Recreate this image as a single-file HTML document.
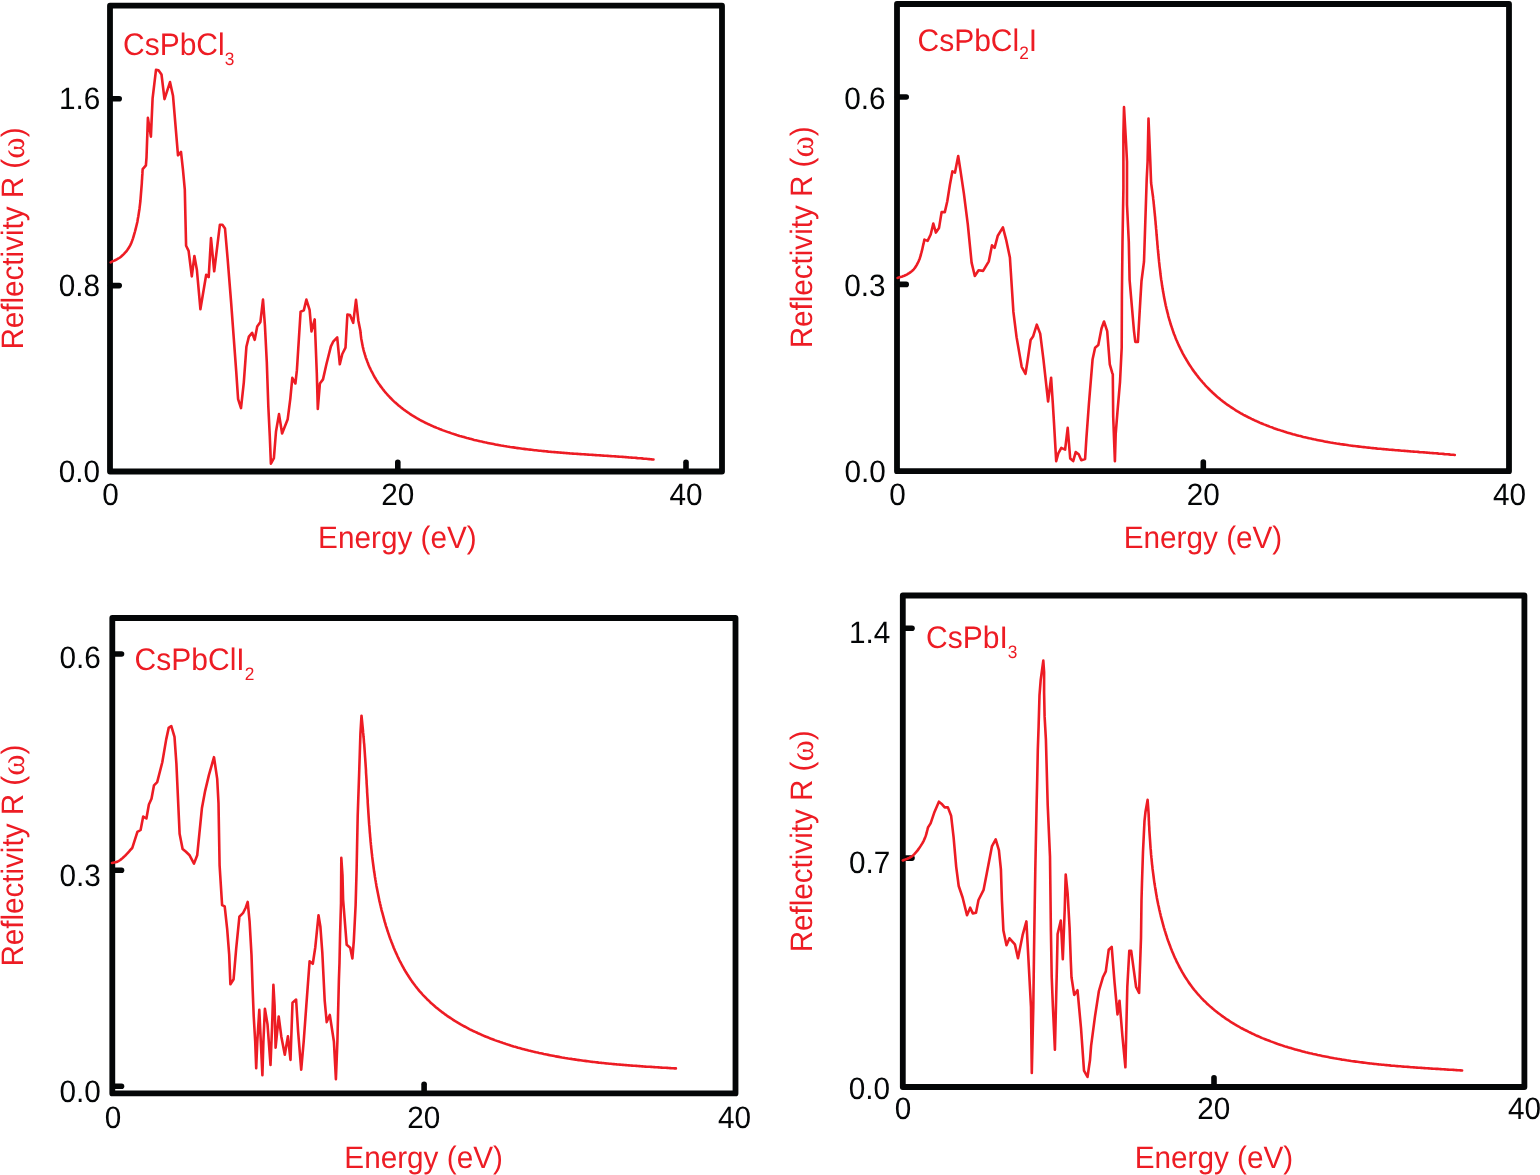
<!DOCTYPE html><html><head><meta charset="utf-8"><title>Reflectivity spectra</title>
<style>html,body{margin:0;padding:0;background:#fff;width:1540px;height:1175px;overflow:hidden}svg{display:block}text{font-family:"Liberation Sans",Arial,Helvetica,sans-serif;text-rendering:geometricPrecision}</style></head><body>
<svg width="1540" height="1175" viewBox="0 0 1540 1175">
<rect width="1540" height="1175" fill="#fff"/>
<line x1="110.6" y1="98.7" x2="119.2" y2="98.7" stroke="#040607" stroke-width="5.6" stroke-linecap="round"/>
<line x1="110.6" y1="285.6" x2="119.2" y2="285.6" stroke="#040607" stroke-width="5.6" stroke-linecap="round"/>
<line x1="397.8" y1="470.9" x2="397.8" y2="462.3" stroke="#040607" stroke-width="5.6" stroke-linecap="round"/>
<line x1="686.0" y1="470.9" x2="686.0" y2="462.3" stroke="#040607" stroke-width="5.6" stroke-linecap="round"/>
<rect x="110" y="5.7" width="612.0" height="465.8" fill="none" stroke="#040607" stroke-width="5.8" stroke-linejoin="round"/>
<polyline points="110.7,262.3 111.9,261.7 113.1,261.1 114.4,260.6 115.6,260.0 116.8,259.4 118.0,258.7 119.2,258.0 120.3,257.2 121.5,256.2 122.8,255.1 124.0,253.9 125.1,252.7 126.3,251.4 127.3,250.0 128.3,248.5 129.3,247.0 130.3,245.1 131.3,243.0 132.1,240.9 132.9,238.6 133.6,236.3 134.3,233.9 135.0,231.5 135.6,229.2 136.2,226.7 136.8,224.2 137.4,221.7 137.8,219.1 138.3,216.5 138.7,213.9 139.1,211.3 139.5,208.7 139.8,206.2 140.1,203.6 140.4,201.0 140.6,198.5 140.8,195.9 141.0,193.4 141.2,190.8 141.4,188.3 141.6,185.9 141.8,183.5 141.9,181.1 142.1,178.7 142.2,176.3 142.4,173.9 142.5,171.5 142.7,169.1 145.9,165.3 146.5,157.7 147.9,117.9 150.9,136.6 152.6,98.3 156.0,69.8 158.5,70.2 161.5,74.5 164.5,99.1 170.0,82.1 173.0,95.7 178.0,155.3 181.0,151.9 182.9,169.1 184.8,189.6 185.4,216.4 186.1,245.7 188.6,250.9 191.8,276.4 194.4,256.0 196.9,270.0 200.4,309.2 206.2,274.7 208.7,277.2 211.0,238.1 214.2,271.3 219.9,224.7 222.4,224.7 225.0,228.5 227.6,258.5 231.1,302.1 236.2,371.1 238.1,399.1 241.0,408.1 243.8,382.6 246.4,346.8 248.9,336.6 252.1,332.8 254.7,339.8 257.2,326.4 260.4,321.9 263.0,299.6 264.9,325.1 266.8,362.1 268.3,406.0 269.8,436.6 270.9,463.7 273.9,458.1 276.0,431.5 279.0,414.1 282.1,433.5 287.7,419.2 290.3,398.8 292.3,377.9 295.4,383.5 296.9,370.2 300.6,311.7 303.8,310.4 306.4,299.6 309.6,309.8 311.5,331.5 314.7,319.4 316.8,373.3 317.8,409.0 319.9,383.5 323.0,379.4 326.4,364.3 330.9,346.4 333.4,341.3 337.2,337.4 339.8,364.3 342.3,354.0 345.5,347.7 347.4,314.5 350.0,315.1 353.2,322.8 356.0,299.8 358.4,321.0 360.4,330.9 360.5,332.5 360.7,334.2 360.9,335.8 361.1,337.4 361.3,339.0 361.6,340.5 361.9,342.1 362.2,343.7 362.5,345.2 362.8,346.8 363.2,348.3 363.5,349.8 363.9,351.4 364.4,352.9 364.8,354.4 365.3,355.8 365.7,357.3 366.2,358.8 366.8,360.2 367.3,361.7 367.9,363.1 368.4,364.5 369.0,365.9 369.6,367.3 370.3,368.7 370.9,370.0 371.6,371.4 372.3,372.7 373.0,374.0 373.7,375.4 374.4,376.7 375.2,378.0 375.9,379.2 376.7,380.5 377.5,381.7 378.3,383.0 379.2,384.2 380.0,385.4 380.9,386.6 381.8,387.8 382.7,389.0 383.6,390.1 384.5,391.3 385.4,392.4 386.4,393.5 387.4,394.6 388.3,395.7 389.3,396.7 390.3,397.8 391.4,398.8 392.4,399.9 393.4,400.9 394.5,401.9 395.6,402.8 396.7,403.8 397.8,404.7 398.9,405.7 400.0,406.6 401.1,407.5 402.3,408.4 403.4,409.3 404.6,410.2 405.8,411.0 407.0,411.8 408.2,412.7 409.4,413.5 410.6,414.3 411.8,415.1 413.1,415.9 414.3,416.6 415.6,417.4 416.8,418.1 418.1,418.8 419.4,419.6 420.7,420.3 422.0,421.0 423.3,421.6 424.6,422.3 425.9,423.0 427.3,423.6 428.6,424.3 430.0,424.9 431.3,425.5 432.7,426.1 434.0,426.7 435.4,427.3 436.8,427.9 438.2,428.4 439.6,429.0 441.0,429.5 442.4,430.1 443.8,430.6 445.2,431.1 446.6,431.6 448.0,432.1 449.5,432.6 450.9,433.1 452.3,433.6 453.8,434.1 455.2,434.5 456.7,435.0 458.1,435.4 459.6,435.9 461.0,436.3 462.5,436.7 463.9,437.1 465.4,437.6 466.9,438.0 468.3,438.3 469.8,438.7 471.3,439.1 472.8,439.5 474.2,439.9 475.7,440.2 477.2,440.6 478.7,440.9 480.2,441.3 481.7,441.6 483.1,441.9 484.6,442.3 486.1,442.6 487.6,442.9 489.1,443.2 490.6,443.5 492.1,443.8 493.6,444.1 495.1,444.4 496.6,444.7 498.1,444.9 499.6,445.2 501.1,445.5 502.7,445.7 504.2,446.0 505.7,446.2 507.2,446.5 508.7,446.7 510.2,447.0 511.7,447.2 513.3,447.4 514.8,447.6 516.3,447.9 517.8,448.1 519.3,448.3 520.9,448.5 522.4,448.7 523.9,448.9 525.4,449.1 527.0,449.3 528.5,449.5 530.0,449.6 531.5,449.8 533.1,450.0 534.6,450.2 536.1,450.3 537.6,450.5 539.2,450.7 540.7,450.8 542.2,451.0 543.8,451.1 545.3,451.3 546.8,451.4 548.4,451.6 549.9,451.7 551.4,451.9 553.0,452.0 554.5,452.1 556.0,452.3 557.5,452.4 559.1,452.5 560.6,452.6 562.1,452.8 563.7,452.9 565.2,453.0 566.7,453.1 568.3,453.2 569.8,453.4 571.3,453.5 572.8,453.6 574.4,453.7 575.9,453.8 577.4,453.9 578.9,454.0 580.5,454.1 582.0,454.2 583.5,454.3 585.0,454.4 586.6,454.5 588.1,454.6 589.6,454.7 591.1,454.8 592.6,454.9 594.2,455.0 595.7,455.1 597.2,455.2 598.7,455.3 600.2,455.4 601.7,455.5 603.2,455.6 604.7,455.7 606.3,455.8 607.8,455.9 609.3,456.0 610.8,456.1 612.3,456.2 613.8,456.3 615.3,456.4 616.8,456.5 618.3,456.6 619.8,456.7 621.2,456.8 622.7,456.9 624.2,457.0 625.7,457.1 627.2,457.2 628.7,457.4 630.2,457.5 631.6,457.6 633.1,457.7 634.6,457.8 636.1,457.9 637.5,458.1 639.0,458.2 640.5,458.3 641.9,458.4 643.4,458.6 644.8,458.7 646.3,458.8 647.8,459.0 649.2,459.1 650.7,459.2 652.1,459.4 653.5,459.5" fill="none" stroke="#ED1C24" stroke-width="2.6" stroke-linejoin="round" stroke-linecap="round"/>
<line x1="897.6" y1="97.0" x2="906.2" y2="97.0" stroke="#040607" stroke-width="5.6" stroke-linecap="round"/>
<line x1="897.6" y1="284.4" x2="906.2" y2="284.4" stroke="#040607" stroke-width="5.6" stroke-linecap="round"/>
<line x1="1203.3" y1="470.6" x2="1203.3" y2="462.0" stroke="#040607" stroke-width="5.6" stroke-linecap="round"/>
<rect x="897" y="4.0" width="612.0" height="467.2" fill="none" stroke="#040607" stroke-width="5.8" stroke-linejoin="round"/>
<polyline points="897.6,277.9 898.6,277.6 899.5,277.3 900.5,277.0 901.4,276.7 902.4,276.4 903.3,276.1 904.3,275.7 905.2,275.3 906.2,274.8 907.2,274.3 908.2,273.7 909.2,273.1 910.2,272.4 911.1,271.7 912.1,271.0 912.9,270.2 913.8,269.3 914.6,268.3 915.3,267.2 916.1,266.0 916.8,264.9 917.4,263.7 918.0,262.5 918.6,261.3 919.1,260.1 919.6,258.9 920.0,257.6 920.4,256.3 920.8,255.0 921.1,253.7 921.5,252.4 921.8,251.1 922.2,249.7 922.5,248.3 922.8,246.8 923.1,245.4 923.5,243.9 923.8,242.5 924.1,241.0 924.4,239.6 927.6,240.9 930.7,234.5 933.3,223.6 935.9,232.6 939.0,228.1 941.6,212.1 944.8,212.1 947.3,201.3 949.9,184.7 952.4,171.3 955.0,172.6 958.2,156.0 960.1,168.1 963.9,193.6 967.8,224.3 971.6,262.6 974.8,276.0 978.6,270.2 983.1,270.9 988.8,261.3 992.0,245.3 994.6,247.9 997.8,235.7 1002.9,227.4 1006.1,239.6 1009.9,257.5 1013.4,311.9 1016.6,337.4 1021.7,366.8 1025.5,373.8 1027.4,361.7 1030.6,340.0 1033.2,336.2 1036.8,324.7 1040.2,333.6 1043.4,359.2 1048.1,401.5 1051.1,377.7 1052.8,403.2 1054.0,422.8 1056.2,461.1 1058.3,453.4 1061.3,447.9 1065.1,449.6 1067.7,427.9 1070.2,458.5 1073.2,461.1 1075.7,452.1 1078.7,454.3 1081.3,460.2 1085.1,458.9 1086.4,438.1 1088.9,404.0 1092.6,359.2 1095.1,347.7 1098.3,345.1 1101.5,328.5 1104.0,321.5 1107.2,331.1 1109.8,364.3 1112.3,373.2 1112.8,374.3 1113.2,416.8 1114.9,461.1 1115.7,433.8 1117.4,412.6 1120.0,382.1 1121.7,347.7 1121.9,295.3 1122.5,242.0 1123.4,188.4 1123.4,134.7 1124.0,107.0 1126.1,143.7 1127.0,161.6 1127.0,204.5 1128.8,242.0 1129.6,280.0 1134.0,331.1 1135.3,341.9 1137.9,341.9 1140.4,299.1 1141.5,281.0 1144.0,261.7 1146.7,179.4 1147.6,161.6 1148.5,118.6 1150.3,161.6 1151.1,183.0 1151.3,184.4 1151.5,185.8 1151.7,187.3 1151.9,188.7 1152.1,190.2 1152.3,191.6 1152.5,193.1 1152.7,194.5 1152.9,196.0 1153.1,197.4 1153.2,198.9 1153.4,200.4 1153.6,201.8 1153.7,203.3 1153.9,204.8 1154.0,206.3 1154.2,207.8 1154.3,209.3 1154.5,210.8 1154.6,212.3 1154.8,213.8 1154.9,215.3 1155.1,216.8 1155.2,218.3 1155.3,219.8 1155.5,221.3 1155.6,222.8 1155.7,224.3 1155.9,225.9 1156.0,227.4 1156.1,228.9 1156.3,230.4 1156.4,232.0 1156.5,233.5 1156.6,235.0 1156.8,236.6 1156.9,238.1 1157.0,239.6 1157.2,241.2 1157.3,242.7 1157.4,244.3 1157.6,245.8 1157.7,247.3 1157.8,248.9 1158.0,250.4 1158.1,252.0 1158.3,253.5 1158.4,255.0 1158.6,256.6 1158.7,258.1 1158.9,259.7 1159.0,261.2 1159.2,262.8 1159.4,264.3 1159.5,265.8 1159.7,267.4 1159.9,268.9 1160.1,270.5 1160.3,272.0 1160.4,273.5 1160.6,275.1 1160.8,276.6 1161.0,278.1 1161.2,279.7 1161.5,281.2 1161.7,282.7 1161.9,284.2 1162.1,285.8 1162.4,287.3 1162.6,288.8 1162.9,290.3 1163.1,291.8 1163.4,293.3 1163.7,294.8 1163.9,296.3 1164.2,297.8 1164.5,299.3 1164.8,300.8 1165.1,302.3 1165.4,303.8 1165.7,305.3 1166.1,306.8 1166.4,308.3 1166.8,309.7 1167.1,311.2 1167.5,312.7 1167.9,314.1 1168.2,315.6 1168.6,317.1 1169.0,318.5 1169.4,320.0 1169.9,321.4 1170.3,322.8 1170.7,324.3 1171.2,325.7 1171.7,327.1 1172.1,328.5 1172.6,329.9 1173.1,331.4 1173.6,332.8 1174.1,334.2 1174.7,335.5 1175.2,336.9 1175.7,338.3 1176.3,339.7 1176.9,341.0 1177.5,342.4 1178.1,343.8 1178.7,345.1 1179.3,346.4 1180.0,347.8 1180.6,349.1 1181.3,350.4 1181.9,351.7 1182.6,353.1 1183.3,354.4 1184.0,355.6 1184.7,356.9 1185.5,358.2 1186.2,359.5 1187.0,360.7 1187.7,362.0 1188.5,363.2 1189.3,364.5 1190.1,365.7 1190.9,366.9 1191.7,368.1 1192.5,369.4 1193.4,370.6 1194.2,371.7 1195.1,372.9 1196.0,374.1 1196.9,375.3 1197.8,376.4 1198.7,377.6 1199.6,378.7 1200.5,379.8 1201.5,380.9 1202.4,382.0 1203.4,383.1 1204.4,384.2 1205.3,385.3 1206.3,386.4 1207.3,387.4 1208.4,388.5 1209.4,389.5 1210.4,390.5 1211.5,391.5 1212.5,392.5 1213.6,393.5 1214.7,394.5 1215.8,395.5 1216.9,396.5 1218.0,397.4 1219.1,398.3 1220.2,399.3 1221.4,400.2 1222.5,401.1 1223.7,402.0 1224.9,402.9 1226.0,403.7 1227.2,404.6 1228.4,405.4 1229.7,406.3 1230.9,407.1 1232.1,407.9 1233.3,408.7 1234.6,409.5 1235.8,410.3 1237.1,411.1 1238.4,411.8 1239.7,412.6 1240.9,413.3 1242.2,414.0 1243.5,414.8 1244.9,415.5 1246.2,416.2 1247.5,416.8 1248.8,417.5 1250.2,418.2 1251.5,418.9 1252.9,419.5 1254.2,420.1 1255.6,420.8 1257.0,421.4 1258.4,422.0 1259.7,422.6 1261.1,423.2 1262.5,423.8 1263.9,424.4 1265.3,424.9 1266.8,425.5 1268.2,426.0 1269.6,426.6 1271.0,427.1 1272.5,427.6 1273.9,428.2 1275.3,428.7 1276.8,429.2 1278.2,429.7 1279.7,430.1 1281.1,430.6 1282.6,431.1 1284.1,431.6 1285.5,432.0 1287.0,432.5 1288.5,432.9 1289.9,433.3 1291.4,433.7 1292.9,434.2 1294.4,434.6 1295.9,435.0 1297.4,435.4 1298.9,435.8 1300.4,436.1 1301.8,436.5 1303.3,436.9 1304.8,437.2 1306.3,437.6 1307.8,437.9 1309.3,438.3 1310.8,438.6 1312.3,438.9 1313.9,439.3 1315.4,439.6 1316.9,439.9 1318.4,440.2 1319.9,440.5 1321.4,440.8 1322.9,441.1 1324.4,441.4 1325.9,441.7 1327.4,441.9 1328.9,442.2 1330.4,442.5 1332.0,442.7 1333.5,443.0 1335.0,443.2 1336.5,443.5 1338.0,443.7 1339.5,443.9 1341.0,444.2 1342.6,444.4 1344.1,444.6 1345.6,444.8 1347.1,445.0 1348.6,445.3 1350.1,445.5 1351.7,445.7 1353.2,445.9 1354.7,446.0 1356.2,446.2 1357.7,446.4 1359.2,446.6 1360.8,446.8 1362.3,447.0 1363.8,447.1 1365.3,447.3 1366.8,447.5 1368.3,447.6 1369.9,447.8 1371.4,448.0 1372.9,448.1 1374.4,448.3 1375.9,448.4 1377.4,448.6 1379.0,448.7 1380.5,448.8 1382.0,449.0 1383.5,449.1 1385.0,449.3 1386.5,449.4 1388.0,449.5 1389.5,449.7 1391.0,449.8 1392.5,449.9 1394.1,450.0 1395.6,450.2 1397.1,450.3 1398.6,450.4 1400.1,450.5 1401.6,450.7 1403.1,450.8 1404.6,450.9 1406.1,451.0 1407.6,451.1 1409.1,451.2 1410.6,451.4 1412.1,451.5 1413.6,451.6 1415.1,451.7 1416.5,451.8 1418.0,451.9 1419.5,452.1 1421.0,452.2 1422.5,452.3 1424.0,452.4 1425.5,452.5 1426.9,452.6 1428.4,452.7 1429.9,452.9 1431.4,453.0 1432.9,453.1 1434.3,453.2 1435.8,453.3 1437.3,453.4 1438.7,453.6 1440.2,453.7 1441.7,453.8 1443.1,453.9 1444.6,454.1 1446.1,454.2 1447.5,454.3 1449.0,454.4 1450.4,454.6 1451.9,454.7 1453.3,454.8 1454.8,455.0" fill="none" stroke="#ED1C24" stroke-width="2.6" stroke-linejoin="round" stroke-linecap="round"/>
<line x1="112.9" y1="654.0" x2="121.5" y2="654.0" stroke="#040607" stroke-width="5.6" stroke-linecap="round"/>
<line x1="112.9" y1="870.2" x2="121.5" y2="870.2" stroke="#040607" stroke-width="5.6" stroke-linecap="round"/>
<line x1="112.9" y1="1086.3" x2="121.5" y2="1086.3" stroke="#040607" stroke-width="5.6" stroke-linecap="round"/>
<line x1="424.1" y1="1092.8" x2="424.1" y2="1084.2" stroke="#040607" stroke-width="5.6" stroke-linecap="round"/>
<rect x="112.3" y="618.0" width="623.2" height="475.4" fill="none" stroke="#040607" stroke-width="5.8" stroke-linejoin="round"/>
<polyline points="112.0,863.0 112.7,862.8 113.5,862.7 114.2,862.5 115.0,862.3 115.7,862.2 116.5,862.0 117.2,861.7 117.9,861.4 118.7,861.0 119.5,860.5 120.2,860.0 121.0,859.4 121.7,858.8 122.5,858.2 123.2,857.5 124.0,856.8 125.0,855.9 126.0,854.8 127.1,853.7 128.1,852.6 129.2,851.4 130.2,850.2 131.3,849.0 132.3,847.9 137.4,831.9 140.6,830.0 143.2,816.6 146.4,818.5 148.9,804.5 151.5,798.7 154.0,785.3 157.2,782.1 162.3,762.3 166.2,739.4 168.7,727.9 171.3,726.0 174.5,736.8 176.4,763.6 179.6,833.8 182.6,848.9 185.7,851.5 189.6,855.3 194.0,863.6 197.2,855.3 201.9,808.3 205.1,791.1 208.9,775.1 214.0,757.2 217.2,778.9 218.5,803.2 219.6,865.5 222.1,905.1 224.7,906.4 227.2,929.4 229.2,954.9 230.4,984.3 233.6,979.2 236.2,948.5 239.4,916.6 243.2,912.8 245.7,907.7 247.7,901.9 249.6,921.7 251.5,954.9 252.7,990.4 253.7,1016.0 255.2,1041.5 256.2,1068.1 257.3,1041.5 259.3,1009.8 260.8,1041.5 262.4,1075.2 263.4,1041.5 264.9,1008.8 267.5,1024.1 270.5,1065.0 272.1,1026.2 273.4,984.8 274.6,1005.8 275.6,1047.6 278.7,1016.5 281.3,1036.4 284.8,1054.8 287.9,1036.4 290.5,1059.9 292.5,1002.7 296.1,999.6 298.1,1031.3 301.2,1069.6 303.7,1041.5 306.3,1005.8 309.6,961.3 312.8,963.8 315.3,947.2 318.5,915.3 320.4,926.8 322.3,952.3 324.7,1000.6 326.7,1022.1 329.8,1014.9 333.9,1041.5 335.9,1079.3 337.4,1041.5 338.9,979.9 339.5,962.6 340.1,934.0 341.0,903.1 341.3,857.9 342.5,875.7 343.1,899.5 346.7,944.8 350.2,947.7 352.4,958.5 353.8,941.2 355.6,905.5 356.6,870.0 357.7,815.7 359.1,774.9 360.4,734.0 361.5,715.7 363.0,731.0 363.1,732.4 363.3,733.9 363.4,735.3 363.5,736.8 363.7,738.2 363.8,739.7 363.9,741.1 364.0,742.6 364.2,744.1 364.3,745.5 364.4,747.0 364.5,748.4 364.6,749.9 364.7,751.4 364.8,752.8 364.9,754.3 365.0,755.8 365.1,757.3 365.2,758.7 365.3,760.2 365.4,761.7 365.5,763.2 365.6,764.7 365.7,766.1 365.8,767.6 365.9,769.1 366.0,770.6 366.0,772.1 366.1,773.6 366.2,775.1 366.3,776.6 366.4,778.1 366.5,779.6 366.6,781.1 366.6,782.6 366.7,784.1 366.8,785.6 366.9,787.1 367.0,788.6 367.1,790.1 367.1,791.6 367.2,793.1 367.3,794.6 367.4,796.1 367.5,797.6 367.6,799.1 367.7,800.7 367.7,802.2 367.8,803.7 367.9,805.2 368.0,806.7 368.1,808.2 368.2,809.7 368.3,811.3 368.4,812.8 368.5,814.3 368.6,815.8 368.7,817.3 368.8,818.8 368.9,820.4 369.0,821.9 369.1,823.4 369.2,824.9 369.4,826.5 369.5,828.0 369.6,829.5 369.7,831.0 369.8,832.5 370.0,834.1 370.1,835.6 370.2,837.1 370.4,838.6 370.5,840.2 370.6,841.7 370.8,843.2 370.9,844.7 371.1,846.2 371.2,847.8 371.4,849.3 371.6,850.8 371.7,852.3 371.9,853.9 372.1,855.4 372.2,856.9 372.4,858.4 372.6,859.9 372.8,861.5 373.0,863.0 373.2,864.5 373.4,866.0 373.6,867.5 373.8,869.1 374.0,870.6 374.2,872.1 374.5,873.6 374.7,875.1 374.9,876.7 375.2,878.2 375.4,879.7 375.7,881.2 375.9,882.7 376.2,884.2 376.4,885.7 376.7,887.2 377.0,888.7 377.3,890.3 377.6,891.8 377.9,893.3 378.2,894.8 378.5,896.3 378.8,897.8 379.1,899.3 379.4,900.8 379.8,902.3 380.1,903.8 380.5,905.3 380.8,906.8 381.2,908.3 381.5,909.8 381.9,911.3 382.3,912.7 382.7,914.2 383.1,915.7 383.5,917.2 383.9,918.7 384.3,920.2 384.7,921.7 385.2,923.1 385.6,924.6 386.0,926.1 386.5,927.5 387.0,929.0 387.4,930.5 387.9,931.9 388.4,933.4 388.9,934.8 389.4,936.3 389.9,937.7 390.4,939.2 391.0,940.6 391.5,942.0 392.1,943.4 392.6,944.8 393.2,946.3 393.7,947.7 394.3,949.1 394.9,950.5 395.5,951.8 396.1,953.2 396.8,954.6 397.4,956.0 398.0,957.3 398.7,958.7 399.3,960.0 400.0,961.4 400.7,962.7 401.4,964.0 402.1,965.3 402.8,966.6 403.5,967.9 404.2,969.2 405.0,970.5 405.7,971.8 406.5,973.0 407.3,974.3 408.1,975.5 408.9,976.8 409.7,978.0 410.5,979.2 411.3,980.4 412.1,981.6 413.0,982.8 413.9,984.0 414.7,985.1 415.6,986.3 416.5,987.4 417.4,988.5 418.3,989.6 419.3,990.8 420.2,991.8 421.2,992.9 422.1,994.0 423.1,995.1 424.1,996.1 425.1,997.1 426.1,998.2 427.1,999.2 428.2,1000.2 429.2,1001.2 430.2,1002.2 431.3,1003.2 432.4,1004.1 433.4,1005.1 434.5,1006.0 435.6,1007.0 436.7,1007.9 437.9,1008.8 439.0,1009.7 440.1,1010.6 441.3,1011.5 442.4,1012.4 443.6,1013.2 444.7,1014.1 445.9,1014.9 447.1,1015.8 448.3,1016.6 449.5,1017.4 450.7,1018.2 452.0,1019.0 453.2,1019.8 454.4,1020.6 455.7,1021.4 456.9,1022.1 458.2,1022.9 459.4,1023.6 460.7,1024.4 462.0,1025.1 463.3,1025.8 464.6,1026.5 465.9,1027.2 467.2,1027.9 468.5,1028.6 469.8,1029.3 471.2,1030.0 472.5,1030.6 473.8,1031.3 475.2,1031.9 476.6,1032.5 477.9,1033.2 479.3,1033.8 480.7,1034.4 482.0,1035.0 483.4,1035.6 484.8,1036.2 486.2,1036.8 487.6,1037.3 489.0,1037.9 490.4,1038.5 491.8,1039.0 493.3,1039.5 494.7,1040.1 496.1,1040.6 497.5,1041.1 499.0,1041.6 500.4,1042.1 501.9,1042.6 503.3,1043.1 504.8,1043.6 506.2,1044.1 507.7,1044.6 509.2,1045.0 510.6,1045.5 512.1,1045.9 513.6,1046.4 515.1,1046.8 516.6,1047.2 518.0,1047.7 519.5,1048.1 521.0,1048.5 522.5,1048.9 524.0,1049.3 525.5,1049.7 527.0,1050.1 528.5,1050.5 530.0,1050.8 531.6,1051.2 533.1,1051.6 534.6,1051.9 536.1,1052.3 537.6,1052.6 539.1,1053.0 540.7,1053.3 542.2,1053.6 543.7,1054.0 545.2,1054.3 546.7,1054.6 548.3,1054.9 549.8,1055.2 551.3,1055.5 552.9,1055.8 554.4,1056.1 555.9,1056.4 557.4,1056.6 559.0,1056.9 560.5,1057.2 562.0,1057.5 563.6,1057.7 565.1,1058.0 566.6,1058.2 568.2,1058.5 569.7,1058.7 571.2,1058.9 572.8,1059.2 574.3,1059.4 575.8,1059.6 577.3,1059.9 578.9,1060.1 580.4,1060.3 581.9,1060.5 583.5,1060.7 585.0,1060.9 586.5,1061.1 588.0,1061.3 589.6,1061.5 591.1,1061.7 592.6,1061.9 594.1,1062.0 595.7,1062.2 597.2,1062.4 598.7,1062.6 600.2,1062.7 601.7,1062.9 603.3,1063.0 604.8,1063.2 606.3,1063.4 607.8,1063.5 609.3,1063.7 610.8,1063.8 612.4,1064.0 613.9,1064.1 615.4,1064.2 616.9,1064.4 618.4,1064.5 619.9,1064.6 621.4,1064.8 622.9,1064.9 624.4,1065.0 625.9,1065.1 627.4,1065.3 628.9,1065.4 630.4,1065.5 631.9,1065.6 633.4,1065.7 634.9,1065.8 636.4,1065.9 637.9,1066.0 639.4,1066.1 640.9,1066.3 642.3,1066.4 643.8,1066.5 645.3,1066.6 646.8,1066.7 648.3,1066.8 649.7,1066.8 651.2,1066.9 652.7,1067.0 654.2,1067.1 655.6,1067.2 657.1,1067.3 658.6,1067.4 660.0,1067.5 661.5,1067.6 662.9,1067.7 664.4,1067.8 665.8,1067.8 667.3,1067.9 668.7,1068.0 670.2,1068.1 671.6,1068.2 673.1,1068.3 674.5,1068.4 675.9,1068.4" fill="none" stroke="#ED1C24" stroke-width="2.6" stroke-linejoin="round" stroke-linecap="round"/>
<line x1="903.4" y1="628.3" x2="912.0" y2="628.3" stroke="#040607" stroke-width="5.6" stroke-linecap="round"/>
<line x1="903.4" y1="858.1" x2="912.0" y2="858.1" stroke="#040607" stroke-width="5.6" stroke-linecap="round"/>
<line x1="1214.0" y1="1086.4" x2="1214.0" y2="1077.8" stroke="#040607" stroke-width="5.6" stroke-linecap="round"/>
<rect x="902.8" y="595.5" width="621.6" height="491.5" fill="none" stroke="#040607" stroke-width="5.8" stroke-linejoin="round"/>
<polyline points="902.8,860.5 903.9,860.0 905.0,859.6 906.1,859.2 907.3,858.8 908.4,858.3 909.4,857.8 910.5,857.3 911.5,856.6 912.6,855.8 913.6,854.9 914.6,853.9 915.5,852.8 916.5,851.7 917.4,850.6 918.3,849.4 919.1,848.3 919.9,847.1 920.7,845.9 921.5,844.6 922.3,843.4 923.0,842.1 923.7,840.8 924.3,839.4 924.9,838.1 925.4,836.8 925.9,835.4 926.3,834.1 926.7,832.7 927.0,831.3 927.4,829.9 927.7,828.6 928.1,827.2 930.6,823.4 934.5,811.9 938.9,801.7 942.1,804.3 944.7,807.4 947.9,807.4 951.1,815.7 953.6,837.4 956.2,866.8 958.7,886.0 962.6,897.5 967.0,915.3 970.2,907.7 972.8,913.4 976.0,912.8 978.5,900.0 983.6,889.8 986.8,873.2 991.9,846.4 995.7,839.4 998.9,850.2 1000.9,869.4 1001.9,900.0 1003.4,930.6 1006.5,945.2 1009.5,938.3 1014.9,944.4 1018.0,958.2 1022.6,935.2 1026.4,921.4 1028.7,964.3 1031.0,1007.2 1031.8,1073.0 1033.3,1007.2 1034.0,953.6 1034.8,900.0 1035.3,869.4 1036.6,805.5 1037.2,780.0 1037.8,750.0 1038.6,726.6 1039.5,695.1 1040.7,679.8 1043.3,660.6 1044.1,672.1 1044.1,692.6 1044.6,716.4 1045.9,739.4 1047.7,805.0 1050.0,856.6 1050.9,930.6 1051.7,976.6 1052.9,1006.6 1054.9,1049.7 1056.9,967.5 1057.6,934.0 1060.8,920.6 1062.8,959.3 1064.7,910.0 1065.7,874.5 1067.6,893.1 1069.6,928.3 1070.8,961.3 1071.5,977.3 1074.2,994.9 1077.5,990.2 1081.0,1028.0 1084.0,1070.6 1087.5,1077.0 1090.0,1060.0 1091.1,1045.8 1095.0,1016.4 1098.9,991.0 1102.9,977.3 1105.8,971.4 1108.7,949.8 1111.7,946.9 1114.6,983.1 1117.5,1014.4 1119.5,1000.7 1122.4,1036.0 1125.4,1067.3 1127.3,987.0 1129.3,950.8 1131.2,950.8 1136.1,987.0 1139.1,992.9 1141.0,938.1 1141.5,900.0 1142.0,882.1 1143.0,851.5 1144.5,820.9 1145.5,811.7 1147.6,799.9 1148.6,813.7 1148.7,815.1 1148.7,816.5 1148.8,817.9 1148.8,819.4 1148.9,820.8 1149.0,822.2 1149.0,823.7 1149.1,825.1 1149.2,826.5 1149.3,828.0 1149.3,829.5 1149.4,830.9 1149.5,832.4 1149.6,833.8 1149.7,835.3 1149.8,836.8 1149.9,838.3 1150.0,839.7 1150.1,841.2 1150.2,842.7 1150.3,844.2 1150.4,845.7 1150.5,847.2 1150.6,848.7 1150.8,850.2 1150.9,851.7 1151.0,853.2 1151.1,854.7 1151.3,856.2 1151.4,857.7 1151.6,859.2 1151.7,860.8 1151.9,862.3 1152.0,863.8 1152.2,865.3 1152.4,866.8 1152.5,868.4 1152.7,869.9 1152.9,871.4 1153.1,872.9 1153.3,874.5 1153.5,876.0 1153.7,877.5 1153.9,879.1 1154.1,880.6 1154.3,882.1 1154.5,883.6 1154.8,885.2 1155.0,886.7 1155.3,888.2 1155.5,889.8 1155.8,891.3 1156.0,892.8 1156.3,894.4 1156.6,895.9 1156.8,897.4 1157.1,898.9 1157.4,900.5 1157.7,902.0 1158.0,903.5 1158.3,905.0 1158.7,906.5 1159.0,908.1 1159.3,909.6 1159.7,911.1 1160.0,912.6 1160.4,914.1 1160.7,915.6 1161.1,917.1 1161.5,918.6 1161.9,920.1 1162.3,921.6 1162.7,923.1 1163.1,924.6 1163.5,926.1 1163.9,927.6 1164.4,929.1 1164.8,930.6 1165.3,932.0 1165.7,933.5 1166.2,935.0 1166.7,936.4 1167.1,937.9 1167.6,939.4 1168.1,940.8 1168.7,942.3 1169.2,943.7 1169.7,945.1 1170.3,946.6 1170.8,948.0 1171.4,949.4 1171.9,950.8 1172.5,952.2 1173.1,953.6 1173.7,955.0 1174.3,956.4 1174.9,957.8 1175.6,959.1 1176.2,960.5 1176.8,961.9 1177.5,963.2 1178.2,964.5 1178.9,965.9 1179.5,967.2 1180.3,968.5 1181.0,969.8 1181.7,971.1 1182.4,972.4 1183.2,973.7 1183.9,975.0 1184.7,976.2 1185.5,977.5 1186.3,978.7 1187.1,979.9 1187.9,981.1 1188.7,982.4 1189.6,983.6 1190.4,984.7 1191.3,985.9 1192.1,987.1 1193.0,988.2 1193.9,989.4 1194.8,990.5 1195.8,991.6 1196.7,992.7 1197.6,993.8 1198.6,994.9 1199.6,996.0 1200.5,997.0 1201.5,998.1 1202.5,999.1 1203.5,1000.2 1204.6,1001.2 1205.6,1002.2 1206.6,1003.2 1207.7,1004.2 1208.7,1005.1 1209.8,1006.1 1210.9,1007.1 1212.0,1008.0 1213.1,1008.9 1214.2,1009.9 1215.3,1010.8 1216.5,1011.7 1217.6,1012.6 1218.8,1013.5 1219.9,1014.3 1221.1,1015.2 1222.3,1016.1 1223.4,1016.9 1224.6,1017.7 1225.8,1018.6 1227.0,1019.4 1228.3,1020.2 1229.5,1021.0 1230.7,1021.8 1232.0,1022.6 1233.2,1023.3 1234.5,1024.1 1235.7,1024.8 1237.0,1025.6 1238.3,1026.3 1239.5,1027.0 1240.8,1027.8 1242.1,1028.5 1243.4,1029.2 1244.7,1029.8 1246.1,1030.5 1247.4,1031.2 1248.7,1031.9 1250.1,1032.5 1251.4,1033.2 1252.7,1033.8 1254.1,1034.4 1255.4,1035.1 1256.8,1035.7 1258.2,1036.3 1259.6,1036.9 1260.9,1037.5 1262.3,1038.1 1263.7,1038.6 1265.1,1039.2 1266.5,1039.8 1267.9,1040.3 1269.3,1040.8 1270.7,1041.4 1272.1,1041.9 1273.5,1042.4 1275.0,1042.9 1276.4,1043.5 1277.8,1044.0 1279.2,1044.4 1280.7,1044.9 1282.1,1045.4 1283.6,1045.9 1285.0,1046.4 1286.5,1046.8 1287.9,1047.3 1289.4,1047.7 1290.8,1048.1 1292.3,1048.6 1293.8,1049.0 1295.2,1049.4 1296.7,1049.8 1298.2,1050.2 1299.7,1050.6 1301.1,1051.0 1302.6,1051.4 1304.1,1051.8 1305.6,1052.2 1307.1,1052.5 1308.6,1052.9 1310.1,1053.3 1311.6,1053.6 1313.1,1054.0 1314.6,1054.3 1316.1,1054.6 1317.6,1055.0 1319.1,1055.3 1320.6,1055.6 1322.1,1055.9 1323.7,1056.2 1325.2,1056.5 1326.7,1056.8 1328.2,1057.1 1329.7,1057.4 1331.3,1057.7 1332.8,1058.0 1334.3,1058.3 1335.8,1058.5 1337.4,1058.8 1338.9,1059.0 1340.4,1059.3 1342.0,1059.6 1343.5,1059.8 1345.0,1060.0 1346.6,1060.3 1348.1,1060.5 1349.6,1060.7 1351.2,1061.0 1352.7,1061.2 1354.2,1061.4 1355.8,1061.6 1357.3,1061.8 1358.8,1062.0 1360.4,1062.2 1361.9,1062.4 1363.5,1062.6 1365.0,1062.8 1366.5,1063.0 1368.1,1063.2 1369.6,1063.4 1371.2,1063.5 1372.7,1063.7 1374.2,1063.9 1375.8,1064.0 1377.3,1064.2 1378.8,1064.4 1380.4,1064.5 1381.9,1064.7 1383.5,1064.8 1385.0,1065.0 1386.5,1065.1 1388.0,1065.3 1389.6,1065.4 1391.1,1065.6 1392.6,1065.7 1394.2,1065.8 1395.7,1066.0 1397.2,1066.1 1398.7,1066.2 1400.3,1066.3 1401.8,1066.5 1403.3,1066.6 1404.8,1066.7 1406.3,1066.8 1407.9,1066.9 1409.4,1067.0 1410.9,1067.2 1412.4,1067.3 1413.9,1067.4 1415.4,1067.5 1416.9,1067.6 1418.4,1067.7 1419.9,1067.8 1421.4,1067.9 1422.9,1068.0 1424.4,1068.1 1425.9,1068.2 1427.3,1068.3 1428.8,1068.4 1430.3,1068.5 1431.8,1068.6 1433.3,1068.7 1434.7,1068.8 1436.2,1068.9 1437.7,1068.9 1439.1,1069.0 1440.6,1069.1 1442.0,1069.2 1443.5,1069.3 1444.9,1069.4 1446.4,1069.5 1447.8,1069.6 1449.3,1069.7 1450.7,1069.8 1452.1,1069.8 1453.6,1069.9 1455.0,1070.0 1456.4,1070.1 1457.8,1070.2 1459.2,1070.3 1460.6,1070.4 1462.1,1070.5" fill="none" stroke="#ED1C24" stroke-width="2.6" stroke-linejoin="round" stroke-linecap="round"/>
<text transform="translate(100.2 109.3) scale(0.96 1)" text-anchor="end" fill="#040607" font-size="30.96">1.6</text>
<text transform="translate(100.0 295.6) scale(0.96 1)" text-anchor="end" fill="#040607" font-size="30.96">0.8</text>
<text transform="translate(100.0 482.2) scale(0.96 1)" text-anchor="end" fill="#040607" font-size="30.96">0.0</text>
<text transform="translate(110.5 505.2) scale(0.96 1)" text-anchor="middle" fill="#040607" font-size="30.96">0</text>
<text transform="translate(397.8 505.2) scale(0.96 1)" text-anchor="middle" fill="#040607" font-size="30.96">20</text>
<text transform="translate(686.0 505.2) scale(0.96 1)" text-anchor="middle" fill="#040607" font-size="30.96">40</text>
<text transform="translate(885.6 108.9) scale(0.96 1)" text-anchor="end" fill="#040607" font-size="30.96">0.6</text>
<text transform="translate(885.6 295.8) scale(0.96 1)" text-anchor="end" fill="#040607" font-size="30.96">0.3</text>
<text transform="translate(885.8 482.0) scale(0.96 1)" text-anchor="end" fill="#040607" font-size="30.96">0.0</text>
<text transform="translate(897.5 505.3) scale(0.96 1)" text-anchor="middle" fill="#040607" font-size="30.96">0</text>
<text transform="translate(1203.2 504.7) scale(0.96 1)" text-anchor="middle" fill="#040607" font-size="30.96">20</text>
<text transform="translate(1509.5 505.1) scale(0.96 1)" text-anchor="middle" fill="#040607" font-size="30.96">40</text>
<text transform="translate(100.7 667.7) scale(0.96 1)" text-anchor="end" fill="#040607" font-size="30.96">0.6</text>
<text transform="translate(100.7 885.5) scale(0.96 1)" text-anchor="end" fill="#040607" font-size="30.96">0.3</text>
<text transform="translate(100.7 1102.2) scale(0.96 1)" text-anchor="end" fill="#040607" font-size="30.96">0.0</text>
<text transform="translate(112.9 1127.7) scale(0.96 1)" text-anchor="middle" fill="#040607" font-size="30.96">0</text>
<text transform="translate(423.8 1127.6) scale(0.96 1)" text-anchor="middle" fill="#040607" font-size="30.96">20</text>
<text transform="translate(734.5 1127.8) scale(0.96 1)" text-anchor="middle" fill="#040607" font-size="30.96">40</text>
<text transform="translate(890.2 643.0) scale(0.96 1)" text-anchor="end" fill="#040607" font-size="30.96">1.4</text>
<text transform="translate(890.2 872.5) scale(0.96 1)" text-anchor="end" fill="#040607" font-size="30.96">0.7</text>
<text transform="translate(890.1 1099.4) scale(0.96 1)" text-anchor="end" fill="#040607" font-size="30.96">0.0</text>
<text transform="translate(903.0 1119.4) scale(0.96 1)" text-anchor="middle" fill="#040607" font-size="30.96">0</text>
<text transform="translate(1213.8 1119.0) scale(0.96 1)" text-anchor="middle" fill="#040607" font-size="30.96">20</text>
<text transform="translate(1524.6 1118.9) scale(0.96 1)" text-anchor="middle" fill="#040607" font-size="30.96">40</text>
<text transform="translate(397.4 548) scale(0.96 1)" text-anchor="middle" fill="#ED1C24" font-size="30.96">Energy (eV)</text>
<text transform="translate(1203.0 548) scale(0.96 1)" text-anchor="middle" fill="#ED1C24" font-size="30.96">Energy (eV)</text>
<text transform="translate(423.6 1167.9) scale(0.96 1)" text-anchor="middle" fill="#ED1C24" font-size="30.96">Energy (eV)</text>
<text transform="translate(1213.9 1167.9) scale(0.96 1)" text-anchor="middle" fill="#ED1C24" font-size="30.96">Energy (eV)</text>
<text text-anchor="middle" fill="#ED1C24" font-size="30.96" transform="translate(22.7 238.5) rotate(-90) scale(0.956 1)">Reflectivity R (<tspan font-family="Liberation Serif" font-size="34" dy="0.8">ω</tspan><tspan dy="-0.8">)</tspan></text>
<text text-anchor="middle" fill="#ED1C24" font-size="30.96" transform="translate(812.4 237.3) rotate(-90) scale(0.956 1)">Reflectivity R (<tspan font-family="Liberation Serif" font-size="34" dy="0.8">ω</tspan><tspan dy="-0.8">)</tspan></text>
<text text-anchor="middle" fill="#ED1C24" font-size="30.96" transform="translate(22.9 855.6) rotate(-90) scale(0.956 1)">Reflectivity R (<tspan font-family="Liberation Serif" font-size="34" dy="0.8">ω</tspan><tspan dy="-0.8">)</tspan></text>
<text text-anchor="middle" fill="#ED1C24" font-size="30.96" transform="translate(812.4 841.3) rotate(-90) scale(0.956 1)">Reflectivity R (<tspan font-family="Liberation Serif" font-size="34" dy="0.8">ω</tspan><tspan dy="-0.8">)</tspan></text>
<text transform="translate(123.0 54.5) scale(0.962 1)" fill="#ED1C24" font-size="31.2">CsPbCl<tspan font-size="18.0" dy="10.0">3</tspan></text>
<text transform="translate(917.5 50.5) scale(0.962 1)" fill="#ED1C24" font-size="31.2">CsPbCl<tspan font-size="18.0" dy="8.8">2</tspan><tspan dy="-8.8">I</tspan></text>
<text transform="translate(134.6 670.1) scale(0.962 1)" fill="#ED1C24" font-size="31.2">CsPbClI<tspan font-size="18.0" dy="10.0">2</tspan></text>
<text transform="translate(926.1 648.0) scale(0.962 1)" fill="#ED1C24" font-size="31.2">CsPbI<tspan font-size="18.0" dy="10.0">3</tspan></text>
</svg></body></html>
